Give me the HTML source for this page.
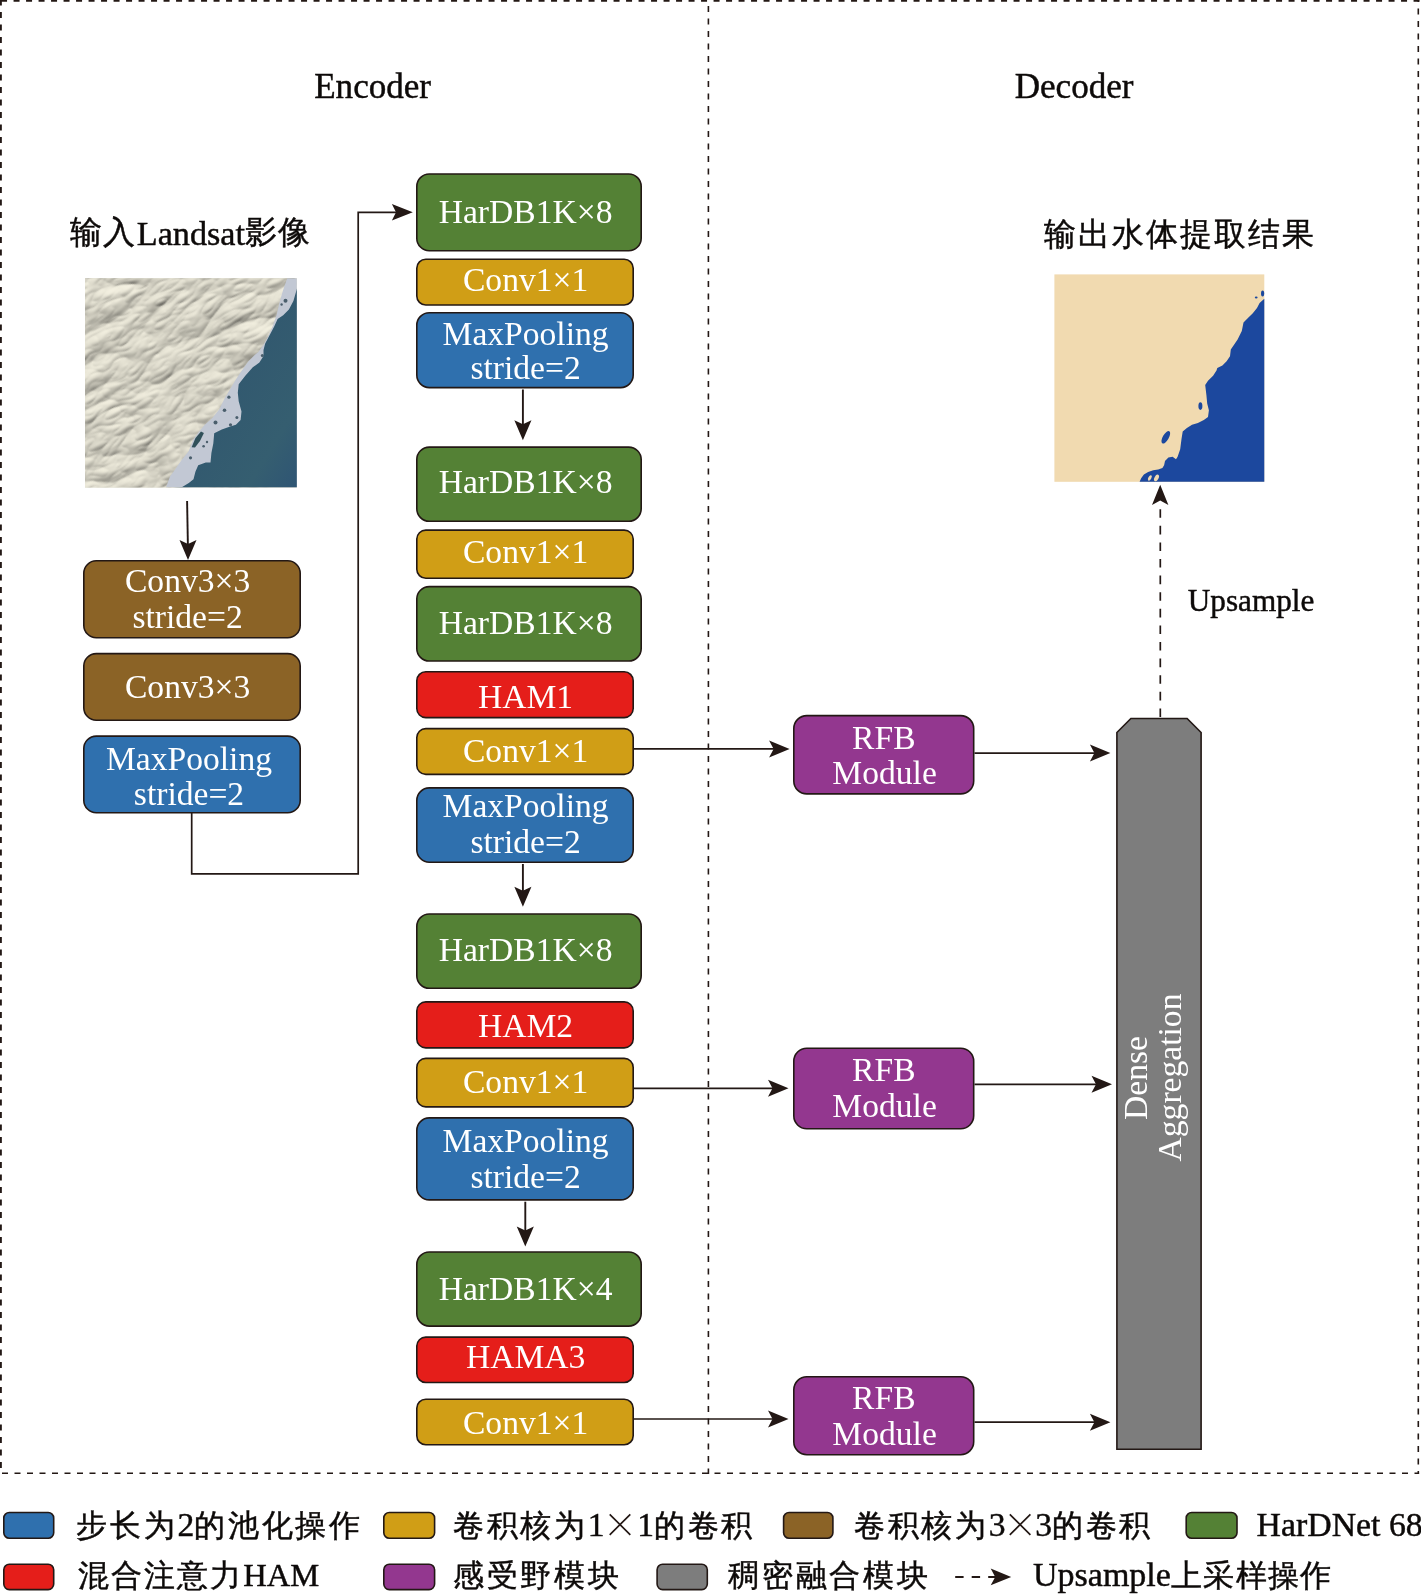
<!DOCTYPE html>
<html><head><meta charset="utf-8"><style>
html,body{margin:0;padding:0;background:#fff;width:1421px;height:1594px;overflow:hidden}
svg{display:block;will-change:transform}
text{font-family:"Liberation Serif", serif}
text[fill="#0d0a09"]{stroke:#0d0a09;stroke-width:0.45px}
</style></head><body>
<svg width="1421" height="1594" viewBox="0 0 1421 1594">
<rect width="1421" height="1594" fill="#fff"/>
<defs>
<linearGradient id="sea" x1="0" y1="0" x2="1" y2="1"><stop offset="0" stop-color="#2C5272"/><stop offset="0.5" stop-color="#32596F"/><stop offset="0.8" stop-color="#355E70"/><stop offset="1" stop-color="#2F5574"/></linearGradient>
<filter id="dunes" x="0" y="0" width="100%" height="100%" color-interpolation-filters="sRGB">
 <feTurbulence type="turbulence" baseFrequency="0.017 0.038" numOctaves="3" seed="5" result="t"/>
 <feDiffuseLighting in="t" surfaceScale="2.8" diffuseConstant="1.05" lighting-color="#E8E5D6" result="l">
   <feDistantLight azimuth="300" elevation="60"/>
 </feDiffuseLighting>
 <feComposite in="l" in2="SourceGraphic" operator="in"/>
</filter>
<clipPath id="lsclip"><rect x="85" y="278.2" width="211.8" height="209.4"/></clipPath>
</defs>
<g clip-path="url(#lsclip)">
<rect x="85" y="278" width="212" height="210" fill="#DCDACA"/>
<g transform="rotate(-30 190 383)"><rect x="20" y="220" width="350" height="330" fill="#fff" filter="url(#dunes)"/></g>
<polygon points="287.2,278.2 283.2,289.8 279.9,301.1 276.5,315.2 272.5,326.5 268.0,336.6 262.9,345.7 258.4,352.0 254.7,355.1 248.1,361.7 241.5,371.1 235.9,379.5 230.2,389.0 224.6,398.4 219.0,409.7 212.4,418.1 204.8,424.7 199.1,431.4 193.0,440.0 188.8,451.0 181.3,460.5 174.7,469.9 170.0,476.5 166.0,487.6 297.0,487.6 297.0,278.2" fill="#C2C8D4"/>
<circle cx="228.9" cy="397.2" r="1.6" fill="#4A5E6C"/><circle cx="224.5" cy="410.2" r="1.8" fill="#4A5E6C"/><circle cx="236.9" cy="417.6" r="1.5" fill="#4A5E6C"/><circle cx="215.5" cy="422.4" r="2" fill="#4A5E6C"/><circle cx="230.5" cy="424.8" r="1.6" fill="#4A5E6C"/><circle cx="203.6" cy="446.3" r="1.3" fill="#4A5E6C"/><circle cx="190.5" cy="457.8" r="1.6" fill="#4A5E6C"/><circle cx="285.5" cy="300.7" r="2.0" fill="#4A5E6C"/><circle cx="281.6" cy="304.5" r="1.2" fill="#4A5E6C"/><circle cx="262.3" cy="355.5" r="1.5" fill="#4A5E6C"/><circle cx="207" cy="442" r="1.2" fill="#4A5E6C"/>
<polygon points="191.6,447.3 195.5,438.0 201.0,431.5 203.9,433.0 200.0,441.0 195.0,447.5" fill="#30505A"/>
<polygon points="297.0,288.6 293.4,301.1 288.9,309.5 283.2,315.2 277.6,319.1 274.2,326.5 269.7,334.9 265.2,343.4 263.5,350.0 263.5,356.0 259.4,362.6 252.8,367.3 245.3,375.8 238.7,384.2 237.8,392.7 238.7,401.2 241.5,411.5 240.6,420.0 235.9,424.7 230.2,426.6 221.8,429.4 214.2,433.2 213.3,443.5 211.4,453.0 210.5,462.4 205.8,462.4 198.2,465.2 195.4,471.8 193.5,479.3 188.8,483.1 182.2,486.9 172.8,487.6 297.0,487.6" fill="url(#sea)"/>
</g>

<rect x="1054.4" y="274.4" width="209.9" height="207.4" fill="#F1DAB0"/>
<polygon points="1139.6,481.8 1141.3,477.9 1143.9,474.5 1148.1,472.0 1153.2,470.3 1158.2,469.4 1162.4,468.1 1164.1,465.2 1165.0,461.0 1168.4,457.6 1172.6,456.8 1176.0,459.3 1177.6,456.8 1180.2,449.2 1181.5,439.0 1182.7,431.4 1186.9,428.0 1192.0,424.7 1197.9,423.0 1203.8,420.1 1208.0,417.1 1208.9,410.3 1207.2,403.6 1206.4,395.1 1205.2,385.0 1208.0,380.8 1213.1,375.7 1216.5,370.6 1217.3,368.1 1222.4,365.6 1226.6,361.3 1230.0,356.3 1230.8,349.5 1234.2,344.4 1237.6,339.4 1241.8,330.9 1243.5,322.5 1247.7,318.3 1252.8,313.2 1257.0,308.1 1259.6,303.1 1264.3,298.8 1264.3,481.8" fill="#1C489E"/>
<ellipse cx="1200.4" cy="406.1" rx="2" ry="3.8" fill="#1C489E"/>
<ellipse cx="1165.8" cy="437.3" rx="3" ry="7" transform="rotate(30 1165.8 437.3)" fill="#1C489E"/>
<ellipse cx="1262.6" cy="293.4" rx="1.6" ry="3" fill="#1C489E"/>
<ellipse cx="1256.2" cy="297.5" rx="1.4" ry="1" fill="#1C489E"/>
<ellipse cx="1156.5" cy="477.9" rx="2" ry="3.5" transform="rotate(30 1156.5 477.9)" fill="#F1DAB0"/>
<ellipse cx="1149.8" cy="477.9" rx="1.5" ry="3" transform="rotate(30 1149.8 477.9)" fill="#F1DAB0"/>

<g stroke="#231815" fill="none">
<line x1="0" y1="0.9" x2="1419.5" y2="0.9" stroke-width="1.9" stroke-dasharray="6 6.5" stroke-dashoffset="-1.06"/>
<line x1="0.9" y1="0" x2="0.9" y2="1474" stroke-width="1.9" stroke-dasharray="6 6.5" stroke-dashoffset="0.44"/>
<line x1="1418.3" y1="0" x2="1418.3" y2="1474.1" stroke-width="1.6" stroke-dasharray="6 6.5" stroke-dashoffset="-8.6"/>
<line x1="0" y1="1473.3" x2="1419.1" y2="1473.3" stroke-width="1.6" stroke-dasharray="6 6.5" stroke-dashoffset="-2.0"/>
<line x1="708.4" y1="0" x2="708.4" y2="1474" stroke-width="1.6" stroke-dasharray="6 6.5" stroke-dashoffset="-6"/>
</g>
<text x="314.20" y="97.80" font-size="35.1" fill="#0d0a09" text-anchor="start" >Encoder</text>
<text x="1014.70" y="97.80" font-size="35.1" fill="#0d0a09" text-anchor="start" >Decoder</text>
<text x="70.00" y="244.80" fill="#0d0a09"><tspan dy="-2.30" font-size="32.0" letter-spacing="1.40">输入</tspan><tspan dy="2.30" font-size="34.2">Landsat</tspan><tspan dy="-2.30" font-size="32.0" letter-spacing="1.40">影像</tspan></text>
<text x="1043.60" y="244.80" fill="#0d0a09"><tspan dy="0.00" font-size="32.0" letter-spacing="2.00">输出水体提取结果</tspan></text>
<text x="1187.80" y="611.00" font-size="31.2" fill="#0d0a09" text-anchor="start" >Upsample</text>
<rect x="416.80" y="174.00" width="224.40" height="76.70" rx="12.5" ry="12.5" fill="#548135" stroke="#231815" stroke-width="1.6"/>
<text x="525.60" y="222.60" font-size="33.6" fill="#fff" text-anchor="middle" >HarDB1K×8</text>
<rect x="416.80" y="259.20" width="216.40" height="45.80" rx="9" ry="9" fill="#D09E16" stroke="#231815" stroke-width="1.6"/>
<text x="525.60" y="291.00" font-size="33.6" fill="#fff" text-anchor="middle" >Conv1×1</text>
<rect x="416.80" y="312.70" width="216.40" height="74.90" rx="12.5" ry="12.5" fill="#2F70AE" stroke="#231815" stroke-width="1.6"/>
<text x="525.60" y="344.60" font-size="33.6" fill="#fff" text-anchor="middle" >MaxPooling</text>
<text x="525.60" y="379.40" font-size="33.6" fill="#fff" text-anchor="middle" >stride=2</text>
<rect x="416.80" y="447.10" width="224.40" height="74.20" rx="12.5" ry="12.5" fill="#548135" stroke="#231815" stroke-width="1.6"/>
<text x="525.60" y="493.30" font-size="33.6" fill="#fff" text-anchor="middle" >HarDB1K×8</text>
<rect x="416.80" y="530.10" width="216.40" height="48.10" rx="9" ry="9" fill="#D09E16" stroke="#231815" stroke-width="1.6"/>
<text x="525.60" y="563.40" font-size="33.6" fill="#fff" text-anchor="middle" >Conv1×1</text>
<rect x="416.80" y="586.60" width="224.40" height="74.40" rx="12.5" ry="12.5" fill="#548135" stroke="#231815" stroke-width="1.6"/>
<text x="525.60" y="634.00" font-size="33.6" fill="#fff" text-anchor="middle" >HarDB1K×8</text>
<rect x="416.80" y="671.70" width="216.40" height="45.90" rx="9" ry="9" fill="#E51E1A" stroke="#231815" stroke-width="1.6"/>
<text x="525.60" y="707.80" font-size="33.6" fill="#fff" text-anchor="middle" >HAM1</text>
<rect x="416.80" y="728.60" width="216.40" height="45.80" rx="9" ry="9" fill="#D09E16" stroke="#231815" stroke-width="1.6"/>
<text x="525.60" y="761.50" font-size="33.6" fill="#fff" text-anchor="middle" >Conv1×1</text>
<rect x="416.80" y="787.90" width="216.40" height="74.30" rx="12.5" ry="12.5" fill="#2F70AE" stroke="#231815" stroke-width="1.6"/>
<text x="525.60" y="817.00" font-size="33.6" fill="#fff" text-anchor="middle" >MaxPooling</text>
<text x="525.60" y="852.80" font-size="33.6" fill="#fff" text-anchor="middle" >stride=2</text>
<rect x="416.80" y="914.00" width="224.40" height="74.30" rx="12.5" ry="12.5" fill="#548135" stroke="#231815" stroke-width="1.6"/>
<text x="525.60" y="961.00" font-size="33.6" fill="#fff" text-anchor="middle" >HarDB1K×8</text>
<rect x="416.80" y="1001.90" width="216.40" height="46.00" rx="9" ry="9" fill="#E51E1A" stroke="#231815" stroke-width="1.6"/>
<text x="525.60" y="1037.20" font-size="33.6" fill="#fff" text-anchor="middle" >HAM2</text>
<rect x="416.80" y="1058.40" width="216.40" height="48.50" rx="9" ry="9" fill="#D09E16" stroke="#231815" stroke-width="1.6"/>
<text x="525.60" y="1092.80" font-size="33.6" fill="#fff" text-anchor="middle" >Conv1×1</text>
<rect x="416.80" y="1117.90" width="216.40" height="82.00" rx="12.5" ry="12.5" fill="#2F70AE" stroke="#231815" stroke-width="1.6"/>
<text x="525.60" y="1152.10" font-size="33.6" fill="#fff" text-anchor="middle" >MaxPooling</text>
<text x="525.60" y="1187.80" font-size="33.6" fill="#fff" text-anchor="middle" >stride=2</text>
<rect x="416.80" y="1252.00" width="224.40" height="74.10" rx="12.5" ry="12.5" fill="#548135" stroke="#231815" stroke-width="1.6"/>
<text x="525.60" y="1300.30" font-size="33.6" fill="#fff" text-anchor="middle" >HarDB1K×4</text>
<rect x="416.80" y="1337.10" width="216.40" height="45.40" rx="9" ry="9" fill="#E51E1A" stroke="#231815" stroke-width="1.6"/>
<text x="525.60" y="1368.10" font-size="33.6" fill="#fff" text-anchor="middle" >HAMA3</text>
<rect x="416.80" y="1399.20" width="216.40" height="45.50" rx="9" ry="9" fill="#D09E16" stroke="#231815" stroke-width="1.6"/>
<text x="525.60" y="1434.00" font-size="33.6" fill="#fff" text-anchor="middle" >Conv1×1</text>
<polyline points="522.90,389.50 522.90,426.00" fill="none" stroke="#231815" stroke-width="1.9"/>
<polygon points="522.90,440.20 514.35,420.20 522.90,424.20 531.45,420.20" fill="#231815"/>
<polyline points="522.90,864.00 522.90,893.00" fill="none" stroke="#231815" stroke-width="1.9"/>
<polygon points="522.90,906.80 514.35,886.80 522.90,890.80 531.45,886.80" fill="#231815"/>
<polyline points="525.30,1201.70 525.30,1233.00" fill="none" stroke="#231815" stroke-width="1.9"/>
<polygon points="525.30,1246.60 516.75,1226.60 525.30,1230.60 533.85,1226.60" fill="#231815"/>
<rect x="83.80" y="560.80" width="216.40" height="76.90" rx="12.5" ry="12.5" fill="#8B6326" stroke="#231815" stroke-width="1.6"/>
<text x="187.60" y="592.40" font-size="33.6" fill="#fff" text-anchor="middle" >Conv3×3</text>
<text x="187.60" y="627.60" font-size="33.6" fill="#fff" text-anchor="middle" >stride=2</text>
<rect x="83.80" y="653.60" width="216.40" height="66.60" rx="12.5" ry="12.5" fill="#8B6326" stroke="#231815" stroke-width="1.6"/>
<text x="187.60" y="698.20" font-size="33.6" fill="#fff" text-anchor="middle" >Conv3×3</text>
<rect x="83.80" y="736.10" width="216.40" height="76.60" rx="12.5" ry="12.5" fill="#2F70AE" stroke="#231815" stroke-width="1.6"/>
<text x="189.00" y="769.80" font-size="33.6" fill="#fff" text-anchor="middle" >MaxPooling</text>
<text x="189.00" y="805.40" font-size="33.6" fill="#fff" text-anchor="middle" >stride=2</text>
<polyline points="187.10,501.10 187.90,546.00" fill="none" stroke="#231815" stroke-width="1.9"/>
<polygon points="188.00,560.00 179.50,540.00 188.00,544.00 196.50,540.00" fill="#231815"/>
<polyline points="191.70,813.00 191.70,873.80 358.20,873.80 358.20,212.30 398.00,212.30" fill="none" stroke="#231815" stroke-width="1.7"/>
<polygon points="412.80,212.30 391.90,220.60 396.00,212.30 391.90,204.00" fill="#231815"/>
<rect x="793.80" y="715.60" width="179.90" height="78.30" rx="13" ry="13" fill="#93378F" stroke="#231815" stroke-width="1.6"/>
<text x="883.80" y="749.20" font-size="33.6" fill="#fff" text-anchor="middle" >RFB</text>
<text x="884.60" y="784.20" font-size="33.6" fill="#fff" text-anchor="middle" >Module</text>
<polyline points="634.00,748.90 775.60,748.90" fill="none" stroke="#231815" stroke-width="1.7"/>
<polygon points="789.60,748.90 769.10,757.40 773.60,748.90 769.10,740.40" fill="#231815"/>
<polyline points="974.50,753.10 1096.40,753.10" fill="none" stroke="#231815" stroke-width="1.7"/>
<polygon points="1110.40,753.10 1089.90,761.60 1094.40,753.10 1089.90,744.60" fill="#231815"/>
<rect x="793.80" y="1048.20" width="179.90" height="80.60" rx="13" ry="13" fill="#93378F" stroke="#231815" stroke-width="1.6"/>
<text x="883.80" y="1081.20" font-size="33.6" fill="#fff" text-anchor="middle" >RFB</text>
<text x="884.60" y="1116.70" font-size="33.6" fill="#fff" text-anchor="middle" >Module</text>
<polyline points="634.00,1088.30 774.50,1088.30" fill="none" stroke="#231815" stroke-width="1.7"/>
<polygon points="788.50,1088.30 768.00,1096.80 772.50,1088.30 768.00,1079.80" fill="#231815"/>
<polyline points="974.50,1084.30 1098.00,1084.30" fill="none" stroke="#231815" stroke-width="1.7"/>
<polygon points="1112.00,1084.30 1091.50,1092.80 1096.00,1084.30 1091.50,1075.80" fill="#231815"/>
<rect x="793.80" y="1376.80" width="179.90" height="77.90" rx="13" ry="13" fill="#93378F" stroke="#231815" stroke-width="1.6"/>
<text x="883.80" y="1409.30" font-size="33.6" fill="#fff" text-anchor="middle" >RFB</text>
<text x="884.60" y="1444.80" font-size="33.6" fill="#fff" text-anchor="middle" >Module</text>
<polyline points="634.00,1419.00 774.50,1419.00" fill="none" stroke="#231815" stroke-width="1.7"/>
<polygon points="788.50,1419.00 768.00,1427.50 772.50,1419.00 768.00,1410.50" fill="#231815"/>
<polyline points="974.50,1422.20 1096.40,1422.20" fill="none" stroke="#231815" stroke-width="1.7"/>
<polygon points="1110.40,1422.20 1089.90,1430.70 1094.40,1422.20 1089.90,1413.70" fill="#231815"/>
<polygon points="1116.8999999999999,732.5 1130.8999999999999,718.5 1187.1000000000001,718.5 1201.1000000000001,732.5 1201.1000000000001,1449.2 1116.8999999999999,1449.2" fill="#7D7D7D" stroke="#231815" stroke-width="1.6"/>
<g transform="translate(1147.2,1078) rotate(-90)"><text x="0" y="0" font-size="33.6" fill="#fff" text-anchor="middle">Dense</text></g>
<g transform="translate(1181.4,1077.5) rotate(-90)"><text x="0" y="0" font-size="33.6" fill="#fff" text-anchor="middle">Aggregation</text></g>
<line x1="1160.3" y1="717" x2="1160.3" y2="502" stroke="#231815" stroke-width="1.7" stroke-dasharray="8.6 8" />
<polygon points="1160.20,484.70 1168.40,505.00 1160.20,500.40 1152.00,505.00" fill="#231815"/>
<rect x="3.80" y="1512.50" width="49.90" height="25.70" rx="5.5" ry="5.5" fill="#2F70AE" stroke="#231815" stroke-width="1.6"/>
<text x="76.30" y="1536.40" fill="#0d0a09"><tspan dy="0.00" font-size="30.5" letter-spacing="2.70">步长为</tspan><tspan dy="-0.00" font-size="33.6">2</tspan><tspan dy="0.00" font-size="30.5" letter-spacing="2.70">的池化操作</tspan></text>
<rect x="383.80" y="1512.50" width="50.80" height="25.70" rx="5.5" ry="5.5" fill="#D09E16" stroke="#231815" stroke-width="1.6"/>
<text x="453.00" y="1536.40" fill="#0d0a09"><tspan dy="0.00" font-size="30.5" letter-spacing="2.70">卷积核为</tspan><tspan dy="-0.00" font-size="33.6">1</tspan></text>
<text x="637.30" y="1536.40" fill="#0d0a09"><tspan dy="-0.00" font-size="33.6">1</tspan><tspan dy="0.00" font-size="30.5" letter-spacing="2.70">的卷积</tspan></text>
<path d="M609.70,1514.30 L630.30,1534.90 M630.30,1514.30 L609.70,1534.90" stroke="#231815" stroke-width="1.7" fill="none"/>
<rect x="783.60" y="1512.50" width="49.30" height="25.70" rx="5.5" ry="5.5" fill="#8B6326" stroke="#231815" stroke-width="1.6"/>
<text x="854.00" y="1536.40" fill="#0d0a09"><tspan dy="0.00" font-size="30.5" letter-spacing="2.70">卷积核为</tspan><tspan dy="-0.00" font-size="33.6">3</tspan></text>
<text x="1035.30" y="1536.40" fill="#0d0a09"><tspan dy="-0.00" font-size="33.6">3</tspan><tspan dy="0.00" font-size="30.5" letter-spacing="2.70">的卷积</tspan></text>
<path d="M1009.80,1514.30 L1030.40,1534.90 M1030.40,1514.30 L1009.80,1534.90" stroke="#231815" stroke-width="1.7" fill="none"/>
<rect x="1186.20" y="1512.50" width="50.80" height="25.70" rx="5.5" ry="5.5" fill="#548135" stroke="#231815" stroke-width="1.6"/>
<text x="1256.60" y="1536.40" font-size="33.8" fill="#0d0a09" text-anchor="start" >HarDNet 68</text>
<rect x="3.80" y="1564.20" width="49.90" height="25.40" rx="5.5" ry="5.5" fill="#E51E1A" stroke="#231815" stroke-width="1.6"/>
<text x="77.50" y="1586.40" fill="#0d0a09"><tspan dy="0.00" font-size="30.5" letter-spacing="2.15">混合注意力</tspan><tspan dy="-0.00" font-size="32.6">HAM</tspan></text>
<rect x="383.80" y="1564.20" width="50.80" height="25.40" rx="5.5" ry="5.5" fill="#93378F" stroke="#231815" stroke-width="1.6"/>
<text x="453.00" y="1586.40" fill="#0d0a09"><tspan dy="0.00" font-size="30.5" letter-spacing="2.70">感受野模块</tspan></text>
<rect x="657.10" y="1564.20" width="50.20" height="25.40" rx="5.5" ry="5.5" fill="#7D7D7D" stroke="#231815" stroke-width="1.6"/>
<text x="728.30" y="1586.40" fill="#0d0a09"><tspan dy="0.00" font-size="30.5" letter-spacing="2.70">稠密融合模块</tspan></text>
<line x1="955.2" y1="1576.9" x2="996" y2="1576.9" stroke="#231815" stroke-width="2" stroke-dasharray="8.4 8.1"/>
<polygon points="1011.20,1576.90 990.70,1585.20 995.20,1576.90 990.70,1568.60" fill="#231815"/>
<text x="1033.00" y="1586.40" fill="#0d0a09"><tspan dy="-0.00" font-size="34.0">Upsample</tspan><tspan dy="0.00" font-size="30.5" letter-spacing="1.40">上采样操作</tspan></text>
</svg>
</body></html>
